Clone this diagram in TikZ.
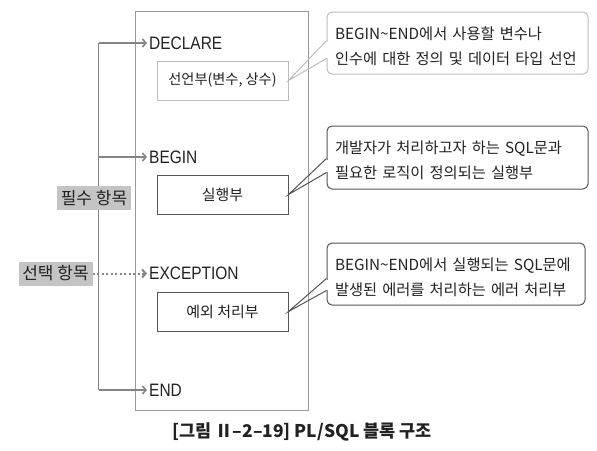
\documentclass[tikz,border=0pt]{standalone}
\usepackage{fontspec}
\setmainfont{Noto Sans CJK KR}
\newfontfamily\kwfont[FakeStretch=0.86]{Liberation Sans}
\usetikzlibrary{arrows.meta,calc}
\definecolor{linegray}{HTML}{858585}
\definecolor{boxgray}{HTML}{9A9A9A}
\definecolor{lightgray}{HTML}{BDBDBD}
\definecolor{darkgray}{HTML}{555555}
\definecolor{taggray}{HTML}{C4C4C4}
\definecolor{txt}{HTML}{222222}
\begin{document}
\begin{tikzpicture}[x=1pt,y=-1pt,
  conn/.style={draw=linegray, line width=1.6pt},
  arr/.style={conn, -{Straight Barb[length=3.5pt,width=8pt]}, shorten >=2pt},
  dotarr/.style={conn, line width=2pt, dash pattern=on 2pt off 2.5pt, -{Straight Barb[length=3.5pt,width=8pt]}, shorten >=2pt},
  kw/.style={font=\kwfont\fontsize{18}{20}\selectfont, text=txt, anchor=west, inner sep=0pt},
  part/.style={draw, fill=white, minimum width=131pt, minimum height=39pt, inner sep=0pt,
    font=\fontsize{15}{16}\selectfont, text=txt, line width=1pt},
  tag/.style={fill=taggray, minimum width=74pt, minimum height=24pt, inner sep=0pt,
    font=\fontsize{17}{18}\selectfont, text=txt},
  callout/.style={draw, rounded corners=5pt, line width=1pt, fill=white, text width=245pt,
    inner xsep=8pt, inner ysep=0pt, minimum height=62pt, align=left,
    font=\fontsize{15.3}{25}\selectfont, text=txt},
  wedge/.style={line width=1pt, line join=miter}
]
\useasboundingbox (0,0) rectangle (597,450);

% outer block
\node[draw=boxgray, line width=1pt, minimum width=173pt, minimum height=399pt, inner sep=0pt] (blk) at (221.5,210.5) {};

% keywords
\node[kw] (decl) at (149,43) {DECLARE};
\node[kw] (begin) at (149,157) {BEGIN};
\node[kw] (exc) at (149,273.5) {EXCEPTION};
\node[kw] (end) at (149,390) {END};

% junctions
\coordinate (jd) at (98.5,43);
\coordinate (jb) at (98.5,157);
\coordinate (je) at (98.5,390);

\draw[conn] (jd) -- (je);
\draw[arr] (jd) -- (decl.west);
\draw[arr] (jb) -- (begin.west);
\draw[arr] (je) -- (end.west);

% tags
\node[tag] (req) at (94,198) {필수 항목};
\node[tag] (opt) at (55.5,273.5) {선택 항목};
\draw[dotarr] (opt.east) -- (exc.west);

% part boxes
\node[part, draw=lightgray, font=\fontsize{14.2}{16}\selectfont] (declbox) at (222.5,80.5) {선언부(변수, 상수)};
\node[part, draw=darkgray] (execbox) at (222.5,194.5) {실행부};
\node[part, draw=darkgray] (excbox) at (222.5,311.5) {예외 처리부};

% callouts
\node[callout, draw=lightgray] (c1) at (457.5,43) {\rule{0pt}{19pt}BEGIN\textasciitilde END에서 사용할 변수나\\인수에 대한 정의 및 데이터 타입 선언};
\node[callout, draw=darkgray, minimum height=63pt] (c2) at (457.5,157.5) {\rule{0pt}{19pt}개발자가 처리하고자 하는 SQL문과\\필요한 로직이 정의되는 실행부};
\node[callout, draw=darkgray, text width=242pt] (c3) at (456,274) {\rule{0pt}{19pt}BEGIN\textasciitilde END에서 실행되는 SQL문에\\발생된 에러를 처리하는 에러 처리부};

\coordinate (c1a) at ($(c1.south west)+(0,-34)$);
\coordinate (c1b) at ($(c1.south west)+(0,-16)$);
\coordinate (c2a) at ($(c2.south west)+(0,-31)$);
\coordinate (c2b) at ($(c2.south west)+(0,-17)$);
\coordinate (c3a) at ($(c3.south west)+(0,-27)$);
\coordinate (c3b) at ($(c3.south west)+(0,-15)$);

\fill[white] ($(c1a)+(-1.5,1)$) rectangle ($(c1b)+(1.5,-1)$);
\fill[white] ($(c2a)+(-1.5,1)$) rectangle ($(c2b)+(1.5,-1)$);
\fill[white] ($(c3a)+(-1.5,1)$) rectangle ($(c3b)+(1.5,-1)$);
\draw[wedge, draw=lightgray] (c1a) -- (declbox.east) -- (c1b);
\draw[wedge, draw=darkgray] (c2a) -- (execbox.east) -- (c2b);
\draw[wedge, draw=darkgray] (c3a) -- (excbox.east) -- (c3b);

% caption
\node[font=\bfseries\fontsize{17.5}{20}\selectfont, text=txt] (cap) at (302,432) {[그림 Ⅱ–2–19] PL/SQL 블록 구조};
\end{tikzpicture}
\end{document}
